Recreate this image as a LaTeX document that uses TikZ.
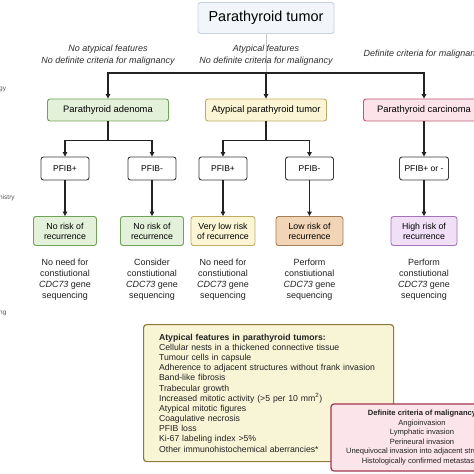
\documentclass[tikz,border=0pt]{standalone}
\usepackage{fontspec}
\setmainfont{Liberation Sans}
\usepackage{xcolor}
\usetikzlibrary{arrows.meta,calc}

\definecolor{titlefill}{HTML}{F2F6FA}
\definecolor{titleline}{HTML}{C8D2DC}
\definecolor{greenfill}{HTML}{E3F1DA}
\definecolor{greenline}{HTML}{6FA358}
\definecolor{yellowfill}{HTML}{FBF5D5}
\definecolor{yellowline}{HTML}{BFAE62}
\definecolor{pinkfill}{HTML}{FCE3E9}
\definecolor{pinkline}{HTML}{C45672}
\definecolor{orangefill}{HTML}{F2D4B6}
\definecolor{orangeline}{HTML}{A47C55}
\definecolor{purplefill}{HTML}{F1DEF7}
\definecolor{purpleline}{HTML}{A475BA}
\definecolor{featfill}{HTML}{F8F4D6}
\definecolor{featline}{HTML}{8C7C3C}
\definecolor{malfill}{HTML}{FBE4EA}
\definecolor{malline}{HTML}{A33650}
\definecolor{pfibline}{HTML}{3A3A3A}
\definecolor{lineblack}{HTML}{222222}
\definecolor{labelgray}{HTML}{2E2E2E}
\definecolor{sidegray}{HTML}{555555}

\tikzset{
    box/.style={draw, rounded corners=2.5bp, line width=0.9bp, align=center, inner sep=0pt},
    typebox/.style={box, minimum width=121bp, minimum height=22bp, font=\fontsize{9.4}{11}\selectfont},
    pfibbox/.style={box, draw=pfibline, fill=white, minimum width=48bp, minimum height=23bp, font=\fontsize{8.5}{10}\selectfont},
    riskbox/.style={box, minimum height=29bp, font=\fontsize{8.8}{10}\selectfont},
    advice/.style={align=center, inner sep=0pt, anchor=north, text=lineblack, font=\fontsize{9}{11}\selectfont},
    branch/.style={align=center, inner sep=0pt, text=labelgray, font=\fontsize{9}{12}\selectfont\itshape},
    conn/.style={draw=lineblack, line width=1.1bp},
    arr/.style={conn, -{Triangle[length=4.5bp,width=4.5bp]}},
    sidelabel/.style={anchor=west, inner sep=0pt, text=sidegray, font=\fontsize{6.5}{7}\selectfont}
}

\begin{document}
\begin{tikzpicture}[x=1bp, y=-1bp]
                \useasboundingbox (0,0) rectangle (474,474);
                \clip (0,0) rectangle (474,474);

                % side fragments cut by the left edge
                \node[sidelabel] (sideA) at (-1,89) {gy};
                \node[sidelabel] (sideB) at (-1,197.5) {nistry};
                \node[sidelabel] (sideC) at (-1,313) {ng};

                % top of the tree
                \node[box, fill=titlefill, draw=titleline, minimum width=136bp, minimum height=31bp, font=\fontsize{14.5}{16}\selectfont] (tumor) at (266,18) {Parathyroid tumor};
                \coordinate (split) at (266,73);
                \draw[draw=gray!45, line width=1bp] (tumor) -- (split);

                \node[branch] (brA) at (108,55) {No atypical features\\No definite criteria for malignancy};
                \node[branch] (brB) at (266,55) {Atypical features\\No definite criteria for malignancy};
                \node[branch] (brC) at (424,54) {Definite criteria for malignancy};

                \node[typebox, fill=greenfill, draw=greenline] (adenoma) at (108,110) {Parathyroid adenoma};
                \node[typebox, fill=yellowfill, draw=yellowline] (atypical) at (266,110) {Atypical parathyroid tumor};
                \node[typebox, fill=pinkfill, draw=pinkline] (carcinoma) at (424,110) {Parathyroid carcinoma};

                \draw[arr] (split) -| (adenoma);
                \draw[arr] (split) -- (atypical);
                \draw[arr] (split) -| (carcinoma);

                % PFIB staining
                \node[pfibbox] (pfibAp) at (65,168.5) {PFIB+};
                \node[pfibbox] (pfibAn) at (152,168.5) {PFIB-};
                \node[pfibbox] (pfibBp) at (223,168.5) {PFIB+};
                \node[pfibbox] (pfibBn) at (309.5,168.5) {PFIB-};
                \node[pfibbox, minimum width=49bp] (pfibC) at (424,168.5) {PFIB+ or -};

                \coordinate (adsplit) at ($(adenoma.south)+(0,19)$);
                \coordinate (atsplit) at ($(atypical.south)+(0,19)$);
                \draw[conn] (adenoma) -- (adsplit);
                \draw[arr] (adsplit) -| (pfibAp);
                \draw[arr] (adsplit) -| (pfibAn);
                \draw[conn] (atypical) -- (atsplit);
                \draw[arr] (atsplit) -| (pfibBp);
                \draw[arr] (atsplit) -| (pfibBn);
                \draw[arr] (carcinoma) -- (pfibC);

                % risk of recurrence
                \node[riskbox, fill=greenfill, draw=greenline, minimum width=63bp] (riskAp) at (65,231) {No risk of\\recurrence};
                \node[riskbox, fill=greenfill, draw=greenline, minimum width=63bp] (riskAn) at (152,231) {No risk of\\recurrence};
                \node[riskbox, fill=yellowfill, draw=yellowline, minimum width=64bp] (riskBp) at (223,231) {Very low risk\\of recurrence};
                \node[riskbox, fill=orangefill, draw=orangeline, minimum width=67bp] (riskBn) at (309.5,231) {Low risk of\\recurrence};
                \node[riskbox, fill=purplefill, draw=purpleline, minimum width=66bp] (riskC) at (424,231) {High risk of\\recurrence};

                \draw[arr] (pfibAp) -- (riskAp);
                \draw[arr] (pfibAn) -- (riskAn);
                \draw[arr] (pfibBp) -- (riskBp);
                \draw[arr] (pfibBn) -- (riskBn);
                \draw[arr] (pfibC) -- (riskC);

                \node[advice] (adviceAp) at (65,259) {No need for\\constiutional\\\textit{CDC73} gene\\sequencing};
                \node[advice] (adviceAn) at (152,259) {Consider\\constiutional\\\textit{CDC73} gene\\sequencing};
                \node[advice] (adviceBp) at (223,259) {No need for\\constiutional\\\textit{CDC73} gene\\sequencing};
                \node[advice] (adviceBn) at (309.5,259) {Perform\\constiutional\\\textit{CDC73} gene\\sequencing};
                \node[advice] (adviceC) at (424,259) {Perform\\constiutional\\\textit{CDC73} gene\\sequencing};

                % legend boxes
                \node[box, anchor=north west, fill=featfill, draw=featline, line width=1.2bp, rounded corners=3bp, align=left, text width=219bp, inner xsep=15.5bp, minimum height=137bp, text=lineblack, font=\fontsize{8.7}{10.2}\selectfont] (features) at (143,324) {\textbf{Atypical features in parathyroid tumors:}\\
                    Cellular nests in a thickened connective tissue\\
                    Tumour cells in capsule\\
                    Adherence to adjacent structures without frank invasion\\
                    Band-like fibrosis\\
                    Trabecular growth\\
                    Increased mitotic activity (>5 per 10 mm\textsuperscript{2})\\
                    Atypical mitotic figures\\
                    Coagulative necrosis\\
                    PFIB loss\\
                    Ki-67 labeling index >5\%\\
                    Other immunohistochemical aberrancies*};
                \node[box, fill=malfill, draw=malline, line width=1.2bp, rounded corners=3bp, minimum width=182bp, minimum height=67bp, text=lineblack, font=\fontsize{7.6}{9.5}\selectfont] (criteria) at (422,437.5) {\textbf{Definite criteria of malignancy}\\
                    Angioinvasion\\
                    Lymphatic invasion\\
                    Perineural invasion\\
                    Unequivocal invasion into adjacent structures\\
                    Histologically confirmed metastases};
            \end{tikzpicture}
\end{document}
